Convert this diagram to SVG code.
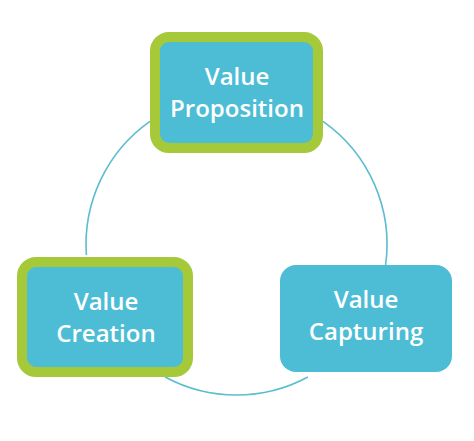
<svg xmlns="http://www.w3.org/2000/svg" width="474" height="441" viewBox="0 0 474 441">
<style>
.box{fill:#4dbdd6;}
.green{stroke:#a6c93a;stroke-width:10;}
.lbl{fill:#ffffff;font-family:"Open Sans","Liberation Sans",sans-serif;font-size:24px;font-weight:600;text-anchor:middle;}
.arc{fill:none;stroke:#5bbdd0;stroke-width:1.6;}
</style>
<rect width="474" height="441" fill="#ffffff"/>
<g id="connectors">
<path class="arc" d="M150,121.3 A150.5,150.5 0 0 0 86.4,255"/>
<path class="arc" d="M323,121.3 A150.5,150.5 0 0 1 385.6,265"/>
<path class="arc" d="M307.9,377 A150.5,150.5 0 0 1 165.1,377"/>
</g>
<g id="value-proposition">
<rect class="box green" x="155" y="37" width="163" height="111" rx="14"/>
<text class="lbl" x="237" y="85">Value</text>
<text class="lbl" x="237" y="117">Proposition</text>
</g>
<g id="value-creation">
<rect class="box green" x="22" y="262" width="166" height="110" rx="14"/>
<text class="lbl" x="106" y="310">Value</text>
<text class="lbl" x="106" y="342">Creation</text>
</g>
<g id="value-capturing">
<rect class="box" x="280" y="265" width="172" height="107" rx="16"/>
<text class="lbl" x="366" y="308">Value</text>
<text class="lbl" x="366" y="340">Capturing</text>
</g>
</svg>
